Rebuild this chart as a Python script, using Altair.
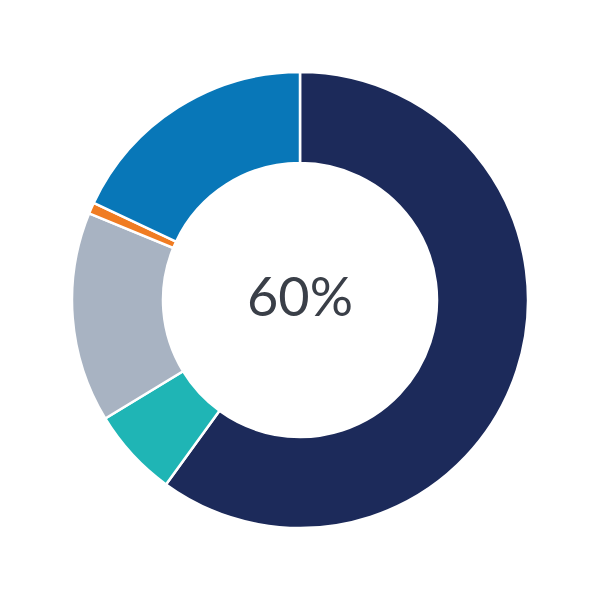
import altair as alt
import pandas as pd

categories = ["Navy", "Teal", "Gray", "Orange", "Blue"]
values = [60.0, 6.3, 14.9, 0.8, 18.0]
colors = ["#1c2a5a", "#1fb5b5", "#a8b3c2", "#f07c22", "#0877b8"]
center_label = "60%"

df = pd.DataFrame({"cat": categories, "val": values, "ord": list(range(len(categories)))})

arcs = alt.Chart(df).mark_arc(radius=228, radius2=137, stroke="white", strokeWidth=2.5).encode(
    theta=alt.Theta("val:Q", stack=True),
    order=alt.Order("ord:Q"),
    color=alt.Color("cat:N", scale=alt.Scale(domain=categories, range=colors), legend=None),
)

label = alt.Chart(pd.DataFrame({"t": [center_label]})).mark_text(
    font="Lato", fontSize=54, fontWeight=400, color="#3a3f48", baseline="middle", align="center"
).encode(text="t:N", x=alt.value(292), y=alt.value(292))

chart = alt.layer(arcs, label).properties(
    width=584, height=584, padding=0, autosize=alt.AutoSizeParams(type="none")
).configure_view(stroke=None)

chart.save("out.html", embed_options={"renderer": "svg", "actions": False})
